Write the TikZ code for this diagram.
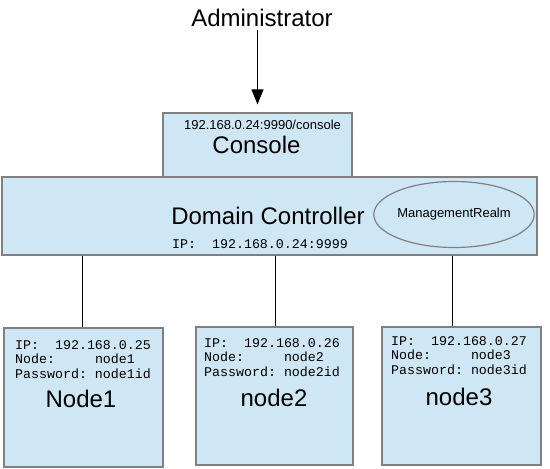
\documentclass[tikz,border=0pt]{standalone}
\usepackage{fontspec}
\setmainfont{Liberation Sans}
\setmonofont{Liberation Mono}
\usetikzlibrary{arrows.meta}
\usetikzlibrary{positioning}
\usetikzlibrary{shapes.geometric}

\definecolor{boxblue}{RGB}{207,231,245}
\definecolor{boxedge}{RGB}{128,128,128}

\tikzset{
    box/.style={draw=boxedge, fill=boxblue, line width=1.2pt, rectangle, inner sep=0pt},
    bigtext/.style={font=\fontsize{24}{28}\selectfont, inner sep=0pt, anchor=base},
    smalltext/.style={font=\fontsize{13}{15}\selectfont, inner sep=0pt},
    monotext/.style={font=\ttfamily\fontsize{13.3}{14.5}\selectfont, inner sep=0pt, align=left, anchor=base west},
    link/.style={draw=black, line width=1pt}
}

\begin{document}
\begin{tikzpicture}[x=1pt, y=-1pt]
    \useasboundingbox (0,0) rectangle (550,469);

    % administrator and console
    \node[bigtext](admin) at (262, 26){Administrator};

    \node[box, minimum width=189pt, minimum height=64pt](console) at (257.5, 145){};
    \node[smalltext, anchor=base](consoleip) at (262.5, 129.5){192.168.0.24:9990/console};
    \node[bigtext](consolename) at (256.5, 153){Console};

    \draw[-{Triangle[width=12pt, length=15pt]}, line width=1pt, shorten >=8pt]([yshift=-4pt]admin.south -| console.north)--(console.north);

    % domain controller
    \node[box, minimum width=535pt, minimum height=78pt](dc) at (269.5, 216){};
    \node[bigtext](dcname) at (268, 224){Domain Controller};
    \node[monotext](dcip) at (172, 248){IP:\ \ 192.168.0.24:9999};
    \node[ellipse, draw=boxedge, line width=1.2pt, minimum width=143pt, minimum height=66pt, smalltext](realm) at (454, 214.5){ManagementRealm};

    % host nodes
    \node[box, minimum width=159pt, minimum height=139pt](n1) at (83.5, 397.5){};
    \node[box, minimum width=157pt, minimum height=138pt](n2) at (274.5, 396){};
    \node[box, minimum width=159pt, minimum height=138pt](n3) at (461.5, 396){};

    % last line sits on the given point
    \node[monotext](n1info) at (15, 378){IP:\ \ 192.168.0.25\\Node:\ \ \ \ \ node1\\Password:\ node1id};
    \node[monotext](n2info) at (204, 376){IP:\ \ 192.168.0.26\\Node:\ \ \ \ \ node2\\Password:\ node2id};
    \node[monotext](n3info) at (391, 374){IP:\ \ 192.168.0.27\\Node:\ \ \ \ \ node3\\Password:\ node3id};

    \node[bigtext](n1name) at (81, 407){Node1};
    \node[bigtext](n2name) at (274, 406){node2};
    \node[bigtext](n3name) at (459, 405){node3};

    % links
    \coordinate(tap1) at ([xshift=79pt]n1.north west);
    \coordinate(tap2) at ([xshift=80pt]n2.north west);
    \coordinate(tap3) at ([xshift=71pt]n3.north west);
    \draw[link](tap1 |- dc.south)--(tap1);
    \draw[link](tap2 |- dc.south)--(tap2);
    \draw[link](tap3 |- dc.south)--(tap3);
\end{tikzpicture}
\end{document}
